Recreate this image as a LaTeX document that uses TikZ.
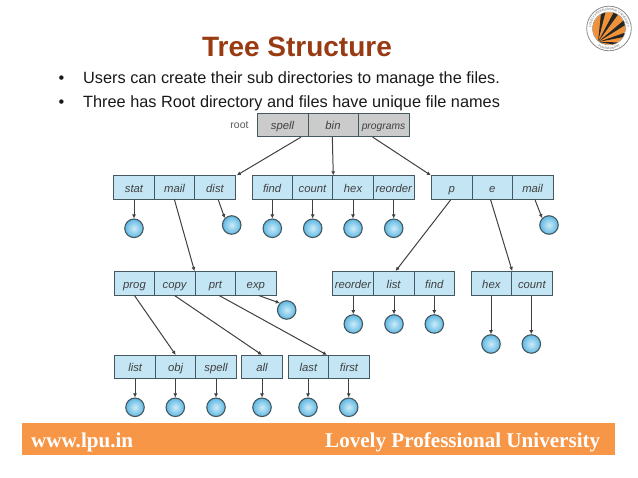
\documentclass[tikz,border=0pt]{standalone}
\usepackage{fontspec}
\setmainfont{Liberation Sans}
\newfontfamily\serifb{Liberation Serif}
\usetikzlibrary{arrows.meta,calc,decorations.text}
\definecolor{cellblue}{HTML}{C3E5F4}
\definecolor{cellgrey}{HTML}{CBCBCB}
\definecolor{edgec}{HTML}{46585F}
\definecolor{linec}{HTML}{404040}
\definecolor{titlec}{HTML}{983A12}
\definecolor{bannerc}{HTML}{F79646}
\definecolor{logoor}{HTML}{F0923A}
\definecolor{ballin}{HTML}{CDEBF7}
\definecolor{ballout}{HTML}{5FB8E4}
\tikzset{
 x=1pt,y=-1pt,
 filecell/.style={draw=edgec,line width=1pt,fill=cellblue,inner sep=0pt,minimum height=23.6pt,text height=10.5pt,text depth=1pt,text=black!75,font=\itshape\fontsize{11.3}{11.3}\selectfont},
 rootcell/.style={filecell,fill=cellgrey,minimum height=23.2pt},
 ball/.style={circle,draw=edgec,line width=1.1pt,minimum size=18.5pt,inner sep=0pt,inner color=ballin,outer color=ballout},
 arr/.style={draw=linec,line width=1pt,-{Latex[length=4pt,width=4pt]}},
 bodytext/.style={anchor=base west,inner sep=0pt,font=\fontsize{16.3}{16.3}\selectfont,text=black!90},
 foot/.style={anchor=base west,inner sep=0pt,text=white,font=\serifb\bfseries\fontsize{21.1}{21.1}\selectfont},
}
\begin{document}
\begin{tikzpicture}
\useasboundingbox (0,0) rectangle (638,478);
% title and bullets
\node[inner sep=0pt,anchor=base,text=titlec,font=\bfseries\fontsize{28}{28}\selectfont] (title) at (297,56.7) {Tree Structure};
\node[bodytext] (b1) at (58.5,83.5) {•};
\node[bodytext] (t1) at (83,83.5) {Users can create their sub directories to manage the files.};
\node[bodytext] (b2) at (58.5,108) {•};
\node[bodytext] (t2) at (83,108) {Three has Root directory and files have unique file names};
% root
\node[inner sep=0pt,text=black!65,font=\fontsize{10.5}{10.5}\selectfont] (rootl) at (239.5,125) {root};
\foreach \n/\t/\a/\b in {spell/spell/257/308,bin/bin/308/358}
  \node[rootcell,minimum width=\b-\a] (\n) at ({(\a+\b)/2},125) {\t};
\node[rootcell,minimum width=51pt,font=\itshape\fontsize{10.3}{10.3}\selectfont] (programs) at (383.5,125) {programs};
% row 2
\foreach \n/\t/\a/\b in {stat/stat/113.7/154.3,mailA/mail/154.3/194.7,dist/dist/194.7/235.3,
  findA/find/252/292.3,countA/count/292.3/332.8,hexA/hex/332.8/373.3,reorderA/reorder/373.3/414.3,
  p/p/431.3/472,e/e/472/512.3,mailB/mail/512.3/553}
  \node[filecell,minimum width=\b-\a] (\n) at ({(\a+\b)/2},187.6) {\t};
% row 3
\foreach \n/\t/\a/\b in {prog/prog/114.7/154.3,copy/copy/154.3/195,prt/prt/195/235.7,exp/exp/235.7/276,
  reorderB/reorder/332.7/373.3,listB/list/373.3/414,findB/find/414/454.7,
  hexB/hex/471/511.7,countB/count/511.7/552}
  \node[filecell,minimum width=\b-\a] (\n) at ({(\a+\b)/2},283.3) {\t};
% row 4
\foreach \n/\t/\a/\b in {listC/list/114.7/155.7,obj/obj/155.7/195.7,spellC/spell/195.7/236.3,
  all/all/241.7/282.3,last/last/288/328.7,first/first/328.7/369.3}
  \node[filecell,minimum width=\b-\a] (\n) at ({(\a+\b)/2},367.2) {\t};
% circles
\foreach \n/\x/\y in {cstat/134/228.3,cdist/231.7/225,cfindA/272.3/228.3,ccountA/312.7/228.3,chexA/353/228.3,creorderA/393.7/228.3,cmailB/549/225,
  cexp/286.7/310,creorderB/353.3/324,clistB/394/324,cfindB/434.3/324,chexB/491/344,ccountB/531.3/344,
  clistC/135/407.3,cobj/175.3/407.3,cspellC/216/407.3,call/262/407.3,clast/308/407.3,cfirst/348.7/407.3}
  \node[ball] (\n) at (\x,\y) {};
% connectors between levels
\draw[arr] ([xshift=18.5pt]spell.south) -- ([xshift=1pt]dist.north east);
\draw[arr] ([xshift=-0.7pt]bin.south) -- (countA.north east);
\draw[arr] ([xshift=-10.8pt]programs.south) -- (p.north west);
\draw[arr] (mailA.south) -- (prt.north west);
\draw[arr] ([xshift=-1pt]p.south) -- ([xshift=2pt]listB.north);
\draw[arr] ([xshift=-1.5pt]e.south) -- (hexB.north east);
\draw[arr] (prog.south) -- (obj.north);
\draw[arr] (copy.south) -- (all.north);
\draw[arr] ([xshift=4pt]prt.south) -- ([xshift=18.5pt]last.north);
% connectors to files
\foreach \a/\b in {stat/cstat,findA/cfindA,countA/ccountA,hexA/chexA,reorderA/creorderA,
  reorderB/creorderB,listB/clistB,findB/cfindB,hexB/chexB,countB/ccountB,
  listC/clistC,obj/cobj,spellC/cspellC,all/call,last/clast,first/cfirst}
  \draw[arr] (\a.south -| \b.north) -- (\b.north);
\draw[arr] ([xshift=3.3pt]dist.south) -- (cdist.north west);
\draw[arr] ([xshift=2.4pt]mailB.south) -- (cmailB.north west);
\draw[arr] ([xshift=3.2pt]exp.south) -- (cexp.north west);
% footer
\node[fill=bannerc,minimum width=593pt,minimum height=32pt,inner sep=0pt] (banner) at (318.5,439.5) {};
\node[foot] (fl) at (31,448) {www.lpu.in};
\node[foot] (fr) at (325,448) {Lovely Professional University};
% logo
\coordinate (lc) at (609,28.5);
\fill[white] (lc) circle (23);
\draw[black!45,line width=0.8pt] (lc) circle (22.3);
\draw[black!50,line width=0.5pt] (lc) circle (16.5);
\begin{scope}
\clip (lc) circle (16.2);
\fill[logoor] (lc) circle (16.2);
\foreach \u/\v in {76/84,54/62,32/40,11/19,-9/-1}
  \fill[black!85] (598,42) -- ++({-\u}:45) -- ($(598,42)+({-\v}:45)$) -- cycle;
\end{scope}
\path[decorate,decoration={text along path,text align=center,text={|\fontsize{3}{3}\selectfont\color{black!65}|LOVELY PROFESSIONAL UNIVERSITY}}]
  ($(lc)+(165:18)$) arc[start angle=165,end angle=375,radius=18];
\path[decorate,decoration={text along path,text align=center,text={|\fontsize{3}{3}\selectfont\color{black!65}|PUNJAB (INDIA)}}]
  ($(lc)+(130:20.8)$) arc[start angle=130,end angle=50,radius=20.8];
\end{tikzpicture}
\end{document}
